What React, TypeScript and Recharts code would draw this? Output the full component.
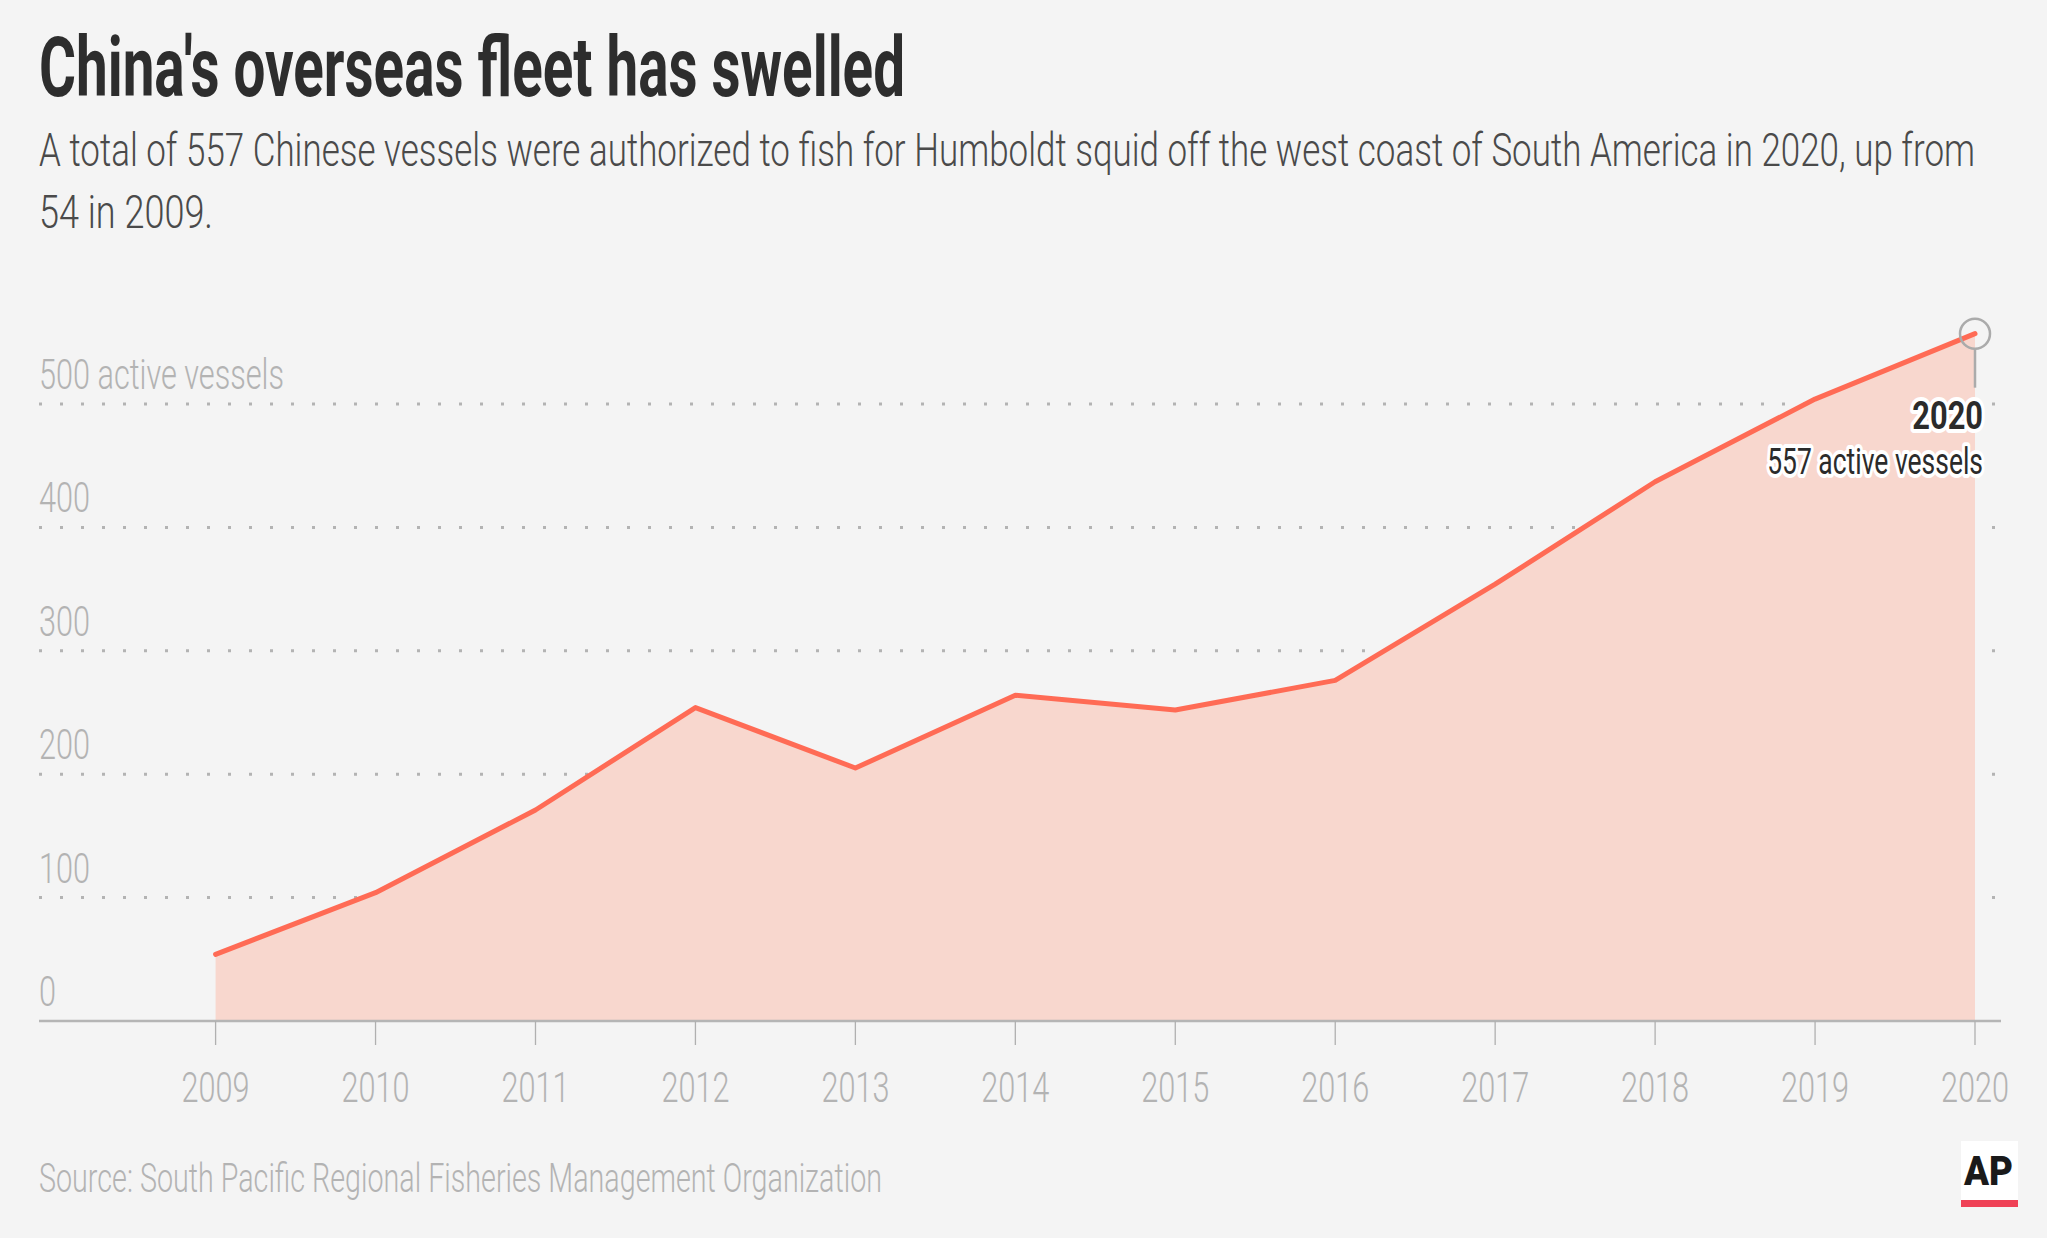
import React from "react";
import { AreaChart, Area, XAxis, YAxis, CartesianGrid } from "recharts";

const YEARS = ["2009", "2010", "2011", "2012", "2013", "2014", "2015", "2016", "2017", "2018", "2019", "2020"];
const VESSELS = [54, 104, 171, 254, 205, 264, 252, 276, 354, 437, 504, 557];
const Y_TICKS = [0, 100, 200, 300, 400, 500];

const TITLE = "China's overseas fleet has swelled";
const SUBTITLE_1 =
  "A total of 557 Chinese vessels were authorized to fish for Humboldt squid off the west coast of South America in 2020, up from";
const SUBTITLE_2 = "54 in 2009.";
const SOURCE = "Source: South Pacific Regional Fisheries Management Organization";

const rows = YEARS.map((year, i) => ({ year, vessels: VESSELS[i] }));

const W = 2047;
const H = 1238;
const PLOT_LEFT = 39;
const FONT = "Roboto, 'Noto Sans', sans-serif";
const SQUEEZE = 0.73;

const LINE = "#ff6b55";
const FILL = "#f8d7ce";
const AXIS_GREY = "#b5b5b5";
const LABEL_GREY = "#b3b3b3";

// y labels sit on top of their dotted gridline, flush left
function YTick({ y, payload }: any) {
  const label = payload.value === 500 ? "500 active vessels" : String(payload.value);
  return (
    <g transform={`translate(${PLOT_LEFT},${y - 15}) scale(${SQUEEZE},1)`}>
      <text x={0} y={0} fontFamily={FONT} fontWeight={300} fontSize={42} fill={LABEL_GREY}>
        {label}
      </text>
    </g>
  );
}

function XTick({ x, y, payload }: any) {
  return (
    <g transform={`translate(${x},${y + 55}) scale(${SQUEEZE},1)`}>
      <text x={0} y={0} textAnchor="middle" fontFamily={FONT} fontWeight={300} fontSize={42} fill={LABEL_GREY}>
        {payload.value}
      </text>
    </g>
  );
}

// condensed line of text: squeezed horizontally, pinned to a final width
function Squeezed({ x, y, width, squeeze, size, weight, color, children }: any) {
  return (
    <g transform={`translate(${x},${y}) scale(${squeeze},1)`}>
      <text
        x={0}
        y={0}
        fontFamily={FONT}
        fontWeight={weight}
        fontSize={size}
        fill={color}
        textLength={width / squeeze}
        lengthAdjust="spacingAndGlyphs"
      >
        {children}
      </text>
    </g>
  );
}

// callout on the latest year: ring, stem and a haloed label
function LastPoint(props: any) {
  const { cx, cy, index } = props;
  if (index !== VESSELS.length - 1) return <g key={`dot-${index}`} />;
  const halo = { stroke: "#ffffff", strokeWidth: 8, strokeLinejoin: "round" as const, paintOrder: "stroke" as const };
  return (
    <g key={`dot-${index}`}>
      <circle cx={cx} cy={cy} r={15} fill="none" stroke="#ababab" strokeWidth={2.5} />
      <line x1={cx} x2={cx} y1={cy + 15} y2={cy + 54} stroke="#ababab" strokeWidth={2.5} />
      <g transform={`translate(${cx + 8},${cy + 95}) scale(0.79,1)`}>
        <text x={0} y={0} textAnchor="end" fontFamily={FONT} fontWeight={700} fontSize={39} fill="#2b2b2b" style={halo}>
          {YEARS[index]}
        </text>
      </g>
      <g transform={`translate(${cx + 8},${cy + 140}) scale(0.715,1)`}>
        <text x={0} y={0} textAnchor="end" fontFamily={FONT} fontWeight={400} fontSize={37} fill="#2b2b2b" style={halo}>
          {`${VESSELS[index]} active vessels`}
        </text>
      </g>
    </g>
  );
}

export default function App() {
  return (
    <div
      style={{
        position: "absolute",
        left: 0,
        top: 0,
        width: W,
        height: H,
        background: "#f4f4f4",
        overflow: "hidden",
      }}
    >
      <AreaChart
        width={W}
        height={H}
        data={rows}
        margin={{ top: 280.6, right: 46, bottom: 117, left: PLOT_LEFT - 1 }}
        style={{ position: "absolute", left: 0, top: 0 }}
      >
        <CartesianGrid
          vertical={false}
          horizontalValues={Y_TICKS.slice(1)}
          stroke="#b3b3b3"
          strokeWidth={3}
          strokeDasharray="3 18"
        />
        <XAxis
          dataKey="year"
          interval={0}
          padding={{ left: 176.6, right: 26 }}
          height={100}
          tickSize={24}
          axisLine={{ stroke: AXIS_GREY, strokeWidth: 2.5 }}
          tickLine={{ stroke: "#b0b0b0", strokeWidth: 1.3 }}
          tick={<XTick />}
        />
        <YAxis
          width={1}
          type="number"
          domain={[0, 600]}
          ticks={Y_TICKS}
          interval={0}
          axisLine={false}
          tickLine={false}
          tick={<YTick />}
        />
        <Area
          type="linear"
          dataKey="vessels"
          stroke={LINE}
          strokeWidth={5}
          strokeLinecap="round"
          strokeLinejoin="round"
          fill={FILL}
          fillOpacity={1}
          dot={LastPoint}
          activeDot={false}
          isAnimationActive={false}
        />
      </AreaChart>

      {/* heading and footer */}
      <svg width={W} height={H} style={{ position: "absolute", left: 0, top: 0, pointerEvents: "none" }}>
        <Squeezed x={39} y={96} width={866} squeeze={0.8} size={83} weight={700} color="#2d2d2d">
          {TITLE}
        </Squeezed>
        <Squeezed x={39} y={166} width={1936} squeeze={0.72} size={46} weight={300} color="#4a4a4a">
          {SUBTITLE_1}
        </Squeezed>
        <Squeezed x={39} y={228} width={174} squeeze={0.72} size={46} weight={300} color="#4a4a4a">
          {SUBTITLE_2}
        </Squeezed>
        <Squeezed x={39} y={1192} width={843} squeeze={0.72} size={41} weight={300} color={LABEL_GREY}>
          {SOURCE}
        </Squeezed>
        <rect x={1961} y={1141} width={57} height={60} fill="#ffffff" />
        <rect x={1961} y={1200} width={57} height={7} fill="#ef4156" />
        <text x={1964} y={1185} fontFamily={FONT} fontWeight={900} fontSize={40} fill="#1a1a1a" textLength={49} lengthAdjust="spacingAndGlyphs">
          AP
        </text>
      </svg>
    </div>
  );
}
